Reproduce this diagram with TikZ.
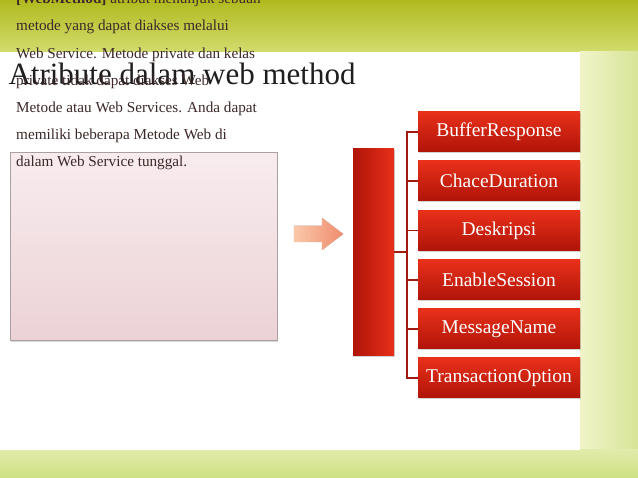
\documentclass[tikz,border=0pt]{standalone}
\usepackage{fontspec}
\setmainfont{Liberation Serif}
\usetikzlibrary{shadows}
\definecolor{redtop}{HTML}{E8301A}
\definecolor{redbot}{HTML}{B01408}
\definecolor{lineR}{HTML}{A01A10}
\tikzset{
 attr/.style={draw=none,top color=redtop,bottom color=redbot,minimum width=162pt,minimum height=40pt,text=white,font=\fontsize{19.5}{20}\selectfont,inner sep=0pt,drop shadow={shadow xshift=1pt,shadow yshift=-1.5pt,opacity=0.35}},
 conn/.style={draw=lineR,line width=1.4pt},
}
\begin{document}
\begin{tikzpicture}[x=1pt,y=-1pt]
\useasboundingbox (0,0) rectangle (638,478);
\fill[top color={rgb,255:red,176;green,186;blue,30},bottom color={rgb,255:red,210;green,220;blue,110}] (0,0) rectangle (638,52);
\fill[left color={rgb,255:red,240;green,244;blue,200},right color={rgb,255:red,215;green,228;blue,150}] (580,52) rectangle (638,450);
\fill[top color={rgb,255:red,225;green,235;blue,170},bottom color={rgb,255:red,205;green,225;blue,130}] (0,450) rectangle (638,478);
\fill[white] (0,52) rectangle (580,450);
\node[anchor=west,font=\fontsize{31}{34}\selectfont,text={rgb,255:red,30;green,30;blue,30}] (title) at (5,74) {Atribute dalam web method};
\node[anchor=north west,draw={rgb,255:red,170;green,160;blue,160},top color={rgb,255:red,248;green,236;blue,238},bottom color={rgb,255:red,236;green,210;blue,214},minimum width=267pt,minimum height=188pt,inner sep=0pt,drop shadow={shadow xshift=1pt,shadow yshift=-1.5pt,opacity=0.3}] (desc) at (10,152) {};
\node[anchor=base west,align=left,inner sep=0pt,font=\fontsize{15.2}{27.2}\selectfont,text={rgb,255:red,60;green,40;blue,40}] (desctext) at (16,167) {\textbf{[WebMethod]} atribut menunjuk sebuah\\ metode yang dapat diakses melalui\\ Web Service. Metode private dan kelas\\ private tidak dapat diakses Web\\ Metode atau Web Services. Anda dapat\\ memiliki beberapa Metode Web di\\ dalam Web Service tunggal.};
\fill[left color={rgb,255:red,250;green,200;blue,170},right color={rgb,255:red,240;green,140;blue,110},draw={rgb,255:red,245;green,180;blue,150}] (294,226) -- (322,226) -- (322,218) -- (343,234) -- (322,250) -- (322,242) -- (294,242) -- cycle;
\node[draw=none,left color=redbot,right color=redtop,minimum width=41pt,minimum height=207pt,inner sep=0pt,drop shadow={shadow xshift=1pt,shadow yshift=-1.5pt,opacity=0.35},anchor=north west] (bar) at (353,148) {};
\node[attr] (a1) at (499,132) {BufferResponse};
\node[attr] (a2) at (499,181) {ChaceDuration};
\node[attr] (a3) at (499,230.5) {Deskripsi};
\node[attr] (a4) at (499,280) {EnableSession};
\node[attr] (a5) at (499,329) {MessageName};
\node[attr] (a6) at (499,378) {TransactionOption};
\coordinate (j) at (407,252);
\draw[conn] (bar.east |- j) -- (j);
\draw[conn] (a1.west) -| (j) (a6.west) -| (j);
\foreach \n in {a2,a3,a4,a5} \draw[conn] (\n.west) -- (j |- \n.west);
\end{tikzpicture}
\end{document}
